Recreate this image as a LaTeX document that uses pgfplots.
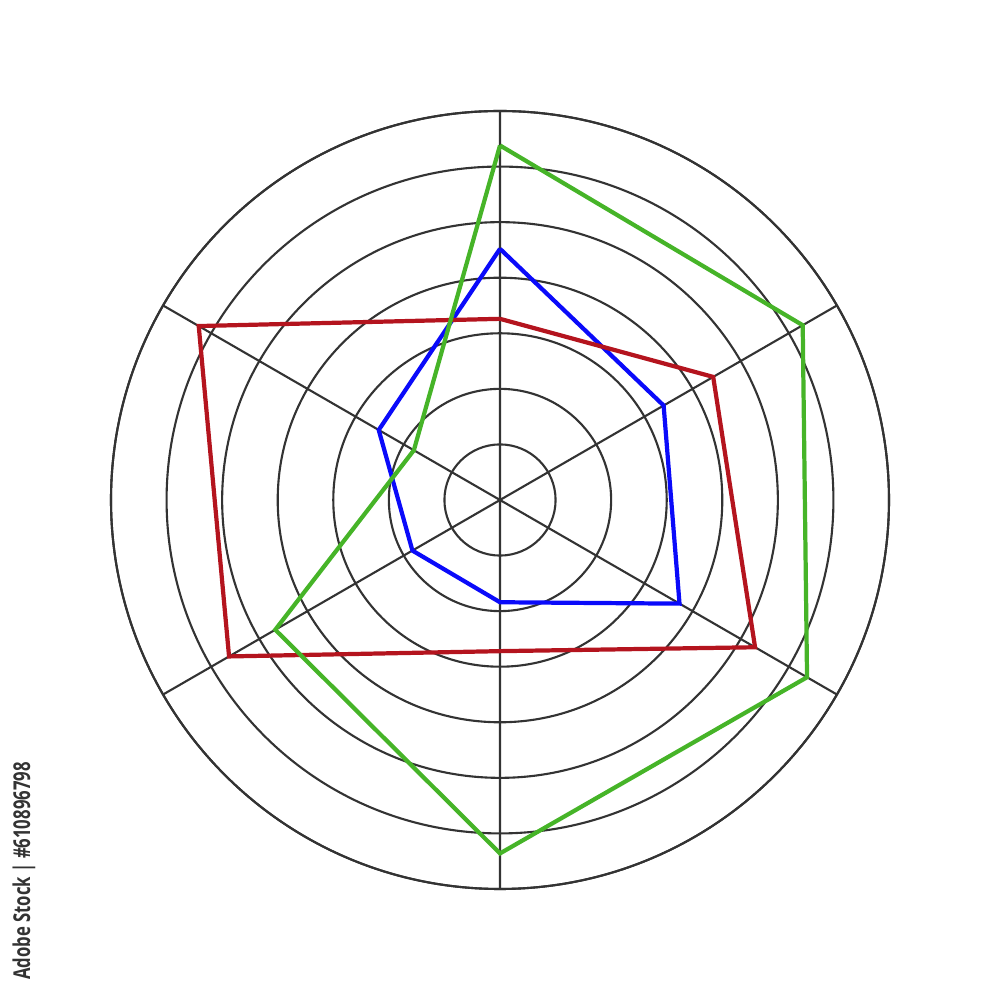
\documentclass[border=0pt]{standalone}
\usepackage{fontspec}
\setmainfont{Open Sans}
\usepackage{pgfplots}
\pgfplotsset{compat=1.18}
\usepgfplotslibrary{polar}

\definecolor{gridgray}{RGB}{51,51,51}
\definecolor{sblue}{RGB}{10,10,250}
\definecolor{sred}{RGB}{180,20,30}
\definecolor{sgreen}{RGB}{70,180,40}

\begin{document}
\begin{tikzpicture}
	\path[use as bounding box] (-5cm,-5cm) rectangle (5cm,5cm);
	\begin{polaraxis}[
		at={(0,0)}, anchor=center,
		scale only axis,
		width=7.78cm, height=7.78cm,
		ymin=0, ymax=7,
		xtick={30,90,150,210,270,330},
		ytick={1,2,3,4,5,6,7},
		xticklabels={}, yticklabels={},
		grid=major,
		major grid style={gridgray, line width=0.6pt},
		x axis line style={gridgray, line width=0.6pt},
		y axis line style={draw=none},
		tick style={draw=none},
	]
		% blue
		\addplot[sblue, line width=1.2pt] coordinates {
			(90,4.52) (30,3.40) (-30,3.73) (-90,1.84) (-150,1.82) (150,2.52) (90,4.52)
		};
		% red
		\addplot[sred, line width=1.2pt] coordinates {
			(90,3.26) (30,4.43) (-30,5.30) (-90,2.72) (-150,5.63) (150,6.26) (90,3.26)
		};
		% green
		\addplot[sgreen, line width=1.2pt] coordinates {
			(90,6.38) (30,6.29) (-30,6.38) (-90,6.36) (-150,4.67) (150,1.79) (90,6.38)
		};
	\end{polaraxis}
	\node[rotate=90, anchor=center, text=gridgray, inner sep=0pt,
		font=\fontsize{6.6}{7.5}\selectfont\bfseries]
		at (-4.76cm,-3.71cm) {\scalebox{0.72}[1]{Adobe Stock | \#610896798}};
\end{tikzpicture}
\end{document}
